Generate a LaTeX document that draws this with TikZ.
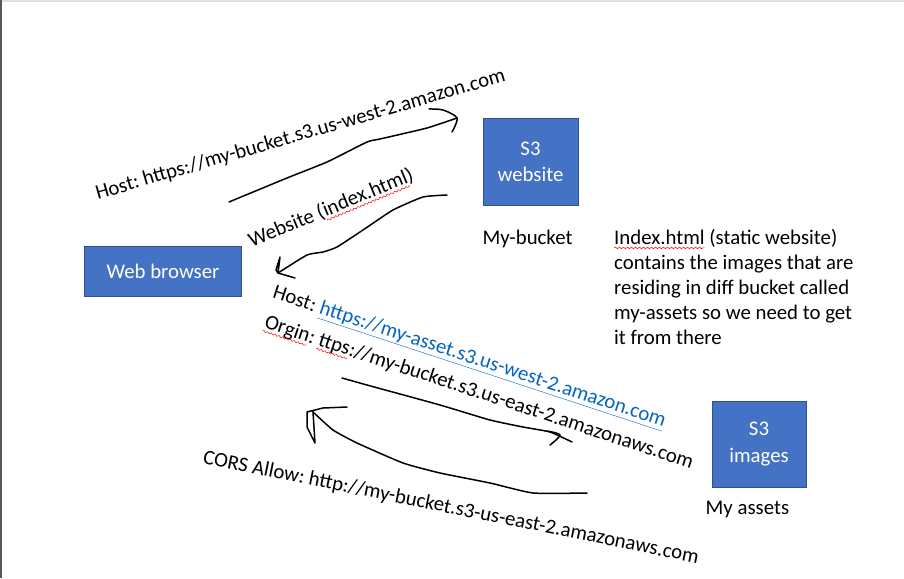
\documentclass[tikz,border=0pt]{standalone}
\usepackage{fontspec}
\setmainfont{Carlito}
\usetikzlibrary{positioning,decorations.pathmorphing}

\definecolor{boxblue}{HTML}{4472C4}
\definecolor{boxedge}{HTML}{2F528F}
\definecolor{linkblue}{HTML}{0563C1}

\newlength{\squigw}
\newcommand{\squig}[1]{\settowidth{\squigw}{#1}\rlap{#1}\tikz[overlay,baseline=0pt]{\draw[red,line width=0.5pt,decorate,decoration={snake,amplitude=0.8pt,segment length=4pt}] (0pt,-3.5pt) -- (\squigw,-3.5pt);}\hspace*{\squigw}}

\tikzset{
  box/.style={draw=boxedge,line width=1pt,fill=boxblue,text=white,align=center,
    inner sep=0pt,font=\fontsize{20.8}{25}\selectfont},
  note/.style={inner sep=0pt,align=left,font=\fontsize{20.8}{25}\selectfont\frenchspacing},
  slanted/.style={inner sep=0pt,font=\fontsize{20.8}{25}\selectfont\frenchspacing},
  scrawl/.style={line width=1.5pt,line cap=round,line join=round},
}

\begin{document}
\begin{tikzpicture}[x=1pt,y=-1pt]
  \useasboundingbox (0,0) rectangle (904,578);

  % window edges
  \fill[black!65] (0,0) rectangle (2,578);
  \fill[black!12] (2,0) rectangle (904,2);

  % boxes
  \node[box,minimum width=157pt,minimum height=50pt] (browser) at (163,271.5) {Web browser};
  \node[box,minimum width=95pt,minimum height=87pt] (website) at (530.5,161.5) {S3\\[1pt]website};
  \node[box,minimum width=94pt,minimum height=86pt] (images) at (759,444) {S3\\[2pt]images};

  % labels
  \node[note,below=24pt of website.south west,anchor=north west] (bucket) {My-bucket};
  \node[note,below=13pt of images.south west,anchor=north west,xshift=-6pt] (assets) {My assets};
  \node[note,anchor=north west] (remark) at (614,229) {\squig{Index.html} (static website)\\contains the images that are\\residing in diff bucket called\\my-assets so we need to get\\it from there};

  % slanted texts
  \node[slanted,rotate=16.2] (hostreq) at (300.5,135) {Host: https://my-bucket.s3.us-west-2.amazon.com};
  \node[slanted,rotate=22.5] (page) at (331,208) {Website (\squig{index.html})};
  \node[slanted,rotate=-18.2] (hostimg) at (469,358) {Host: \textcolor{linkblue}{\underline{https://my-asset.s3.us-west-2.amazon.com}}};
  \node[slanted,rotate=-18.3] (origin) at (479,393) {\squig{Orgin}: \squig{ttps}://my-bucket.s3.us-east-2.amazonaws.com};
  \node[slanted,rotate=-11.4] (cors) at (451,508) {CORS Allow: http://my-bucket.s3-us-east-2.amazonaws.com};

  % hand drawn arrows
  \coordinate (reqa) at (229,202);
  \coordinate (reqb) at (457,118);
  \coordinate (pagea) at (447,195);
  \coordinate (pageb) at (278,273);
  \coordinate (imga) at (342,378);
  \coordinate (imgb) at (572,442);
  \coordinate (corsa) at (587,493);
  \coordinate (corsb) at (313,412);

  \draw[scrawl] plot[smooth,tension=0.3] coordinates {(reqa) (287,178) (327,162) (367,142) (380,139) (427,128) (reqb)};
  \draw[scrawl] plot[smooth,tension=0.5] coordinates {(429,109) (443,110) (reqb) (452,132)};

  \draw[scrawl] plot[smooth,tension=0.3] coordinates {(pagea) (423,197) (393,210) (363,230) (337,247) (323,252) (307,255) (pageb)};
  \draw[scrawl] (280,257) -- (276,270) -- (pageb) -- (280,257);
  \draw[scrawl] (pageb) -- (295,278);

  \draw[scrawl] plot[smooth,tension=0.3] coordinates {(imga) (367,385) (440,405) (490,420) (523,427) (550,432) (imgb)};
  \draw[scrawl] plot[smooth,tension=0.5] coordinates {(547,431) (560,435) (550,445)};

  \draw[scrawl] plot[smooth,tension=0.3] coordinates {(corsa) (533,493) (490,483) (440,473) (403,463) (357,443) (333,430) (corsb)};
  \draw[scrawl] (347,407) -- (323,408) -- (307,412) -- (307,427) -- (315,443) -- (corsb);
\end{tikzpicture}
\end{document}
